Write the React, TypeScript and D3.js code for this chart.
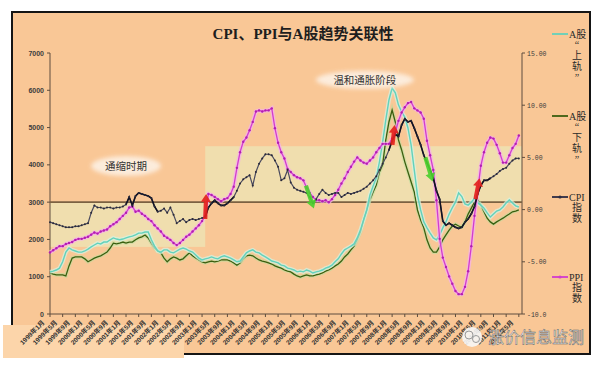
import * as d3 from "d3";
import { useEffect } from "react";

// monthly readings, Jan 1999 .. May 2011 (149 months)
const cpi = [
  -1.2, -1.3, -1.4, -1.5, -1.6, -1.7, -1.7, -1.7, -1.6, -1.6,
  -1.5, -1.4, -1.3, -0.3, 0.4, 0.2, 0.2, 0.1, 0.2, 0.2,
  0.1, 0.2, 0.2, 0.3, 0.5, 1.2, 0.4, 1.3, 1.6, 1.5,
  1.4, 1.3, 1.1, 0.3, -0.2, -0.1, 0.1, -0.3, 0.2, -0.5,
  -1.3, -1.1, -0.9, -1.2, -1.0, -0.9, -1.0, -0.9, -0.8, -0.7,
  0.2, 0.6, 0.9, 0.6, 0.4, 0.4, 0.6, 0.9, 1.2, 1.8,
  2.5, 2.9, 3.1, 3.3, 2.3, 3.6, 4.4, 4.9, 5.3, 5.3,
  5.2, 4.7, 4.1, 2.8, 3.0, 3.8, 2.6, 2.1, 1.9, 1.8,
  1.7, 1.6, 1.2, 0.6, 1.0, 1.5, 1.9, 1.6, 1.4, 1.5,
  1.6, 1.6, 1.2, 1.4, 1.6, 1.5, 1.6, 1.7, 1.8, 2.0,
  2.2, 2.5, 2.8, 3.2, 3.8, 4.4, 5.0, 5.7, 6.6, 7.2,
  7.0, 8.1, 8.7, 8.4, 8.5, 7.8, 7.0, 6.2, 5.2, 4.5,
  3.8, 3.0, 1.8, 1.0, -1.1, -1.5, -1.3, -1.5, -1.7, -1.8,
  -1.7, -1.2, -0.9, -0.4, 0.3, 1.5, 2.3, 2.8, 2.8, 3.0,
  3.2, 3.4, 3.7, 3.9, 4.0, 4.4, 4.7, 4.9, 4.9,
];

const ppi = [
  -4.1, -3.9, -3.7, -3.5, -3.5, -3.3, -3.2, -3.1, -2.9, -2.8,
  -2.8, -2.7, -2.6, -2.4, -2.2, -2.3, -2.1, -2.0, -1.9, -1.6,
  -1.4, -1.2, -0.9, -0.6, -0.3, 0.2, 0.3, -0.2, -0.1, -0.4,
  -0.6, -0.9, -1.1, -1.5, -1.8, -2.1, -2.5, -2.7, -2.9, -3.2,
  -3.4, -3.2, -2.9, -2.6, -2.4, -2.1, -1.8, -1.5, -1.1, -0.6,
  1.5, 1.4, 1.2, 1.0, 0.8, 1.0, 1.1, 1.5, 2.2, 4.0,
  5.5, 6.5, 6.9, 7.6, 8.4, 9.4, 9.5, 9.4, 9.5, 9.5,
  9.7, 7.8, 6.4, 5.5, 4.9, 3.9, 3.6, 3.3, 3.1, 3.0,
  2.8, 2.1, 1.6, 1.2, 0.9, 0.9, 0.8, 0.9, 0.7, 1.0,
  1.4, 1.9, 2.5, 3.0, 3.6, 4.1, 4.6, 5.0, 4.7, 4.5,
  4.4, 4.7, 5.0, 5.5, 5.9, 6.3, 6.3, 6.3, 6.8, 7.4,
  8.5, 9.3, 9.8, 10.2, 10.3, 9.7, 9.5, 9.3, 8.7, 6.6,
  5.2, 3.8, 0.9, -2.8, -4.6, -5.5, -6.4, -7.1, -7.8, -8.1,
  -8.1, -7.4, -5.9, -3.5, -0.6, 1.8, 4.2, 5.5, 6.4, 6.9,
  6.8, 6.2, 5.4, 4.5, 4.5, 5.2, 5.9, 6.3, 7.1,
];

const bandUpper = [
  1130, 1150, 1180, 1230, 1400, 1660, 1770, 1720, 1690, 1660,
  1660, 1690, 1740, 1800, 1850, 1900, 1880, 1930, 1930, 1990,
  2040, 2010, 1990, 2010, 2040, 2070, 2090, 2120, 2170, 2170,
  2200, 2200, 1990, 1820, 1690, 1660, 1720, 1720, 1660, 1640,
  1690, 1740, 1770, 1740, 1690, 1660, 1580, 1500, 1450, 1480,
  1500, 1530, 1500, 1480, 1530, 1560, 1530, 1500, 1450, 1400,
  1420, 1530, 1640, 1690, 1720, 1660, 1640, 1580, 1530, 1480,
  1420, 1400, 1370, 1310, 1290, 1230, 1210, 1180, 1130, 1150,
  1130, 1180, 1150, 1100, 1130, 1150, 1180, 1230, 1260, 1310,
  1400, 1480, 1610, 1720, 1770, 1820, 1880, 2040, 2250, 2520,
  2790, 3190, 3430, 3650, 4080, 4610, 5200, 5740, 6060, 5930,
  5610, 5420, 5280, 4990, 4530, 3860, 3190, 2790, 2470, 2310,
  2170, 2040, 1990, 2120, 2310, 2470, 2680, 2850, 3000, 3250,
  3150, 2950, 2920, 3000, 3100, 2980, 2920, 2840, 2710, 2600,
  2680, 2760, 2790, 2870, 2980, 3060, 2980, 2900, 2870,
];

const bandLower = [
  1100, 1070, 1050, 1050, 1050, 1020, 1290, 1500, 1530, 1530,
  1530, 1480, 1400, 1450, 1500, 1530, 1560, 1610, 1660, 1770,
  1900, 1880, 1900, 1930, 1900, 1930, 1930, 1990, 2040, 2070,
  2120, 2040, 1900, 1770, 1690, 1640, 1500, 1400, 1480, 1530,
  1500, 1450, 1480, 1560, 1640, 1560, 1500, 1450, 1400, 1370,
  1400, 1420, 1400, 1420, 1450, 1450, 1450, 1420, 1370, 1310,
  1370, 1480, 1560, 1580, 1560, 1500, 1450, 1420, 1400, 1370,
  1340, 1290, 1260, 1230, 1180, 1150, 1130, 1070, 1020, 990,
  1020, 1050, 1020, 1020, 1050, 1070, 1100, 1150, 1180, 1230,
  1290, 1340, 1420, 1530, 1610, 1720, 1820, 1990, 2200, 2520,
  2790, 3060, 3270, 3460, 3810, 4000, 4670, 5150, 5470, 5150,
  4670, 4400, 4080, 3810, 3540, 3270, 2790, 2520, 2310, 1990,
  1770, 1660, 1660, 1800, 1990, 2120, 2250, 2360, 2410, 2360,
  2330, 2470, 2680, 2840, 3000, 3060, 2920, 2740, 2570, 2470,
  2410, 2470, 2520, 2570, 2630, 2680, 2740, 2760, 2790,
];

const xTickLabels = [
  "1999年1月", "1999年5月", "1999年9月", "2000年1月", "2000年5月", "2000年9月",
  "2001年1月", "2001年5月", "2001年9月", "2002年1月", "2002年5月", "2002年9月",
  "2003年1月", "2003年5月", "2003年9月", "2004年1月", "2004年5月", "2004年9月",
  "2005年1月", "2005年5月", "2005年9月", "2006年1月", "2006年5月", "2006年9月",
  "2007年1月", "2007年5月", "2007年9月", "2008年1月", "2008年5月", "2008年9月",
  "2009年1月", "2009年5月", "2009年9月", "2010年1月", "2010年5月", "2010年9月",
  "2011年1月", "2011年5月",
];

const leftTicks = [0, 1000, 2000, 3000, 4000, 5000, 6000, 7000];
const rightTicks = [15, 10, 5, 0, -5, -10];
const rightTickLabels = ["15.00", "10.00", "5.00", "0.00", "-5.00", "-10.0"];

// month ranges where the CPI line is inked darker
const cpiDark = [
  [24, 34],
  [49, 58],
  [107, 139],
];

// shaded regimes, in index points on the left axis
const regimes = [
  { from: 0, to: 49, top: 3000, bottom: 1800 },
  { from: 49, to: 149, top: 4500, bottom: 3000 },
];

// turning arrows, month / CPI value (right axis)
const arrows = [
  { m1: 49, v1: -0.9, m2: 49.3, v2: 1.5, color: "#e3221c" },
  { m1: 108.1, v1: 6.2, m2: 108.8, v2: 8.1, color: "#e3221c" },
  { m1: 134.3, v1: 1.0, m2: 135.6, v2: 3.0, color: "#e3221c" },
  { m1: 80.8, v1: 2.3, m2: 83.3, v2: 0.1, color: "#4ccf2e" },
  { m1: 118.5, v1: 5.0, m2: 120.8, v2: 2.7, color: "#4ccf2e" },
];

const notes = [
  { text: "通缩时期", at: 24, level: 3970, rx: 35, ry: 10 },
  { text: "温和通胀阶段", at: 99.4, level: 6280, rx: 49, ry: 9 },
];

const W = 600;
const H = 365;
const left = 50;
const right = 522;
const top = 53;
const bottom = 314;

const cjk = "'Liberation Serif', 'Noto Sans CJK SC', serif";
const sansCjk = "'Noto Sans CJK SC', sans-serif";

function arrowPath(x1: number, y1: number, x2: number, y2: number) {
	const dx = x2 - x1;
	const dy = y2 - y1;
	const len = Math.hypot(dx, dy);
	const ux = dx / len;
	const uy = dy / len;
	const nx = -uy;
	const ny = ux;
	const shaft = 2.1;
	const head = 5;
	const hl = 8;
	const bx = x2 - ux * hl;
	const by = y2 - uy * hl;
	const pts = [
		[x1 + nx * shaft, y1 + ny * shaft],
		[bx + nx * shaft, by + ny * shaft],
		[bx + nx * head, by + ny * head],
		[x2, y2],
		[bx - nx * head, by - ny * head],
		[bx - nx * shaft, by - ny * shaft],
		[x1 - nx * shaft, y1 - ny * shaft],
	];
	return `M${pts.map((p) => p.join(",")).join("L")}Z`;
}

export default function App() {
	useEffect(() => {
		document.body.style.margin = "0";
	}, []);

	const x = d3.scaleLinear().domain([0, 149]).range([left, right]);
	const yL = d3.scaleLinear().domain([0, 7000]).range([bottom, top]);
	const yR = d3.scaleLinear().domain([-10, 15]).range([bottom, top]);

	const lineL = d3
		.line<number>()
		.x((_, i) => x(i))
		.y((d) => yL(d));
	const lineR = d3
		.line<number>()
		.x((_, i) => x(i))
		.y((d) => yR(d));
	const lineRPts = d3
		.line<[number, number]>()
		.x((d) => x(d[0]))
		.y((d) => yR(d[1]));

	const cpiPts: [number, number][] = cpi.map((v, i) => [i, v]);

	const legend = [
		{ y: 34, color: "#62d2bc", marker: false, lines: ["A股", "“", "上", "轨", "”"] },
		{ y: 116, color: "#3b5f10", marker: false, lines: ["A股", "“", "下", "轨", "”"] },
		{ y: 197, color: "#2c2c44", marker: true, lines: ["CPI", "指", "数"] },
		{ y: 277, color: "#d23ccf", marker: true, lines: ["PPI", "指", "数"] },
	];

	return (
		<div style={{ position: "absolute", left: 0, top: 0 }}>
			<svg width={W} height={H} style={{ display: "block", background: "#fff" }}>
				<defs>
					<filter id="soft" x="-30%" y="-60%" width="160%" height="220%">
						<feGaussianBlur stdDeviation="2.2" />
					</filter>
				</defs>

				{/* frame */}
				<rect x={12} y={12} width={578} height={342} fill="#f9c796" stroke="#151515" strokeWidth={2} />
				<rect x={3} y={325} width={181} height={33} fill="#fcd5aa" />

				<text
					x={303}
					y={39}
					textAnchor="middle"
					fontFamily={cjk}
					fontSize={15}
					fontWeight={600}
					fill="#1e1e1e"
				>
					CPI、PPI与A股趋势关联性
				</text>

				{/* shaded regimes */}
				{regimes.map((r, i) => (
					<rect
						key={i}
						x={x(r.from)}
						y={yL(r.top)}
						width={x(r.to) - x(r.from)}
						height={yL(r.bottom) - yL(r.top)}
						fill="#e8f0c0"
						opacity={0.58}
					/>
				))}

				{/* axes */}
				<line x1={left} x2={left} y1={top} y2={bottom} stroke="#5e4d3e" strokeWidth={1} />
				<line x1={right} x2={right} y1={top} y2={bottom} stroke="#5e4d3e" strokeWidth={1} />
				<line x1={left} x2={right} y1={bottom} y2={bottom} stroke="#5e4d3e" strokeWidth={1} />
				{leftTicks.map((t) => (
					<g key={t}>
						<line x1={left - 3} x2={left} y1={yL(t)} y2={yL(t)} stroke="#5e4d3e" />
						<text
							x={left - 6}
							y={yL(t) + 2.5}
							textAnchor="end"
							fontFamily="'Liberation Sans', sans-serif"
							fontSize={7}
							fontWeight="bold"
							fill="#3c3c3c"
						>
							{t}
						</text>
					</g>
				))}
				{rightTicks.map((t, i) => (
					<g key={t}>
						<line x1={right} x2={right + 3} y1={yR(t)} y2={yR(t)} stroke="#5e4d3e" />
						<text
							x={right + 5}
							y={yR(t) + 2.5}
							fontFamily="'Liberation Mono', monospace"
							fontSize={6.5}
							fill="#3c3c3c"
						>
							{rightTickLabels[i]}
						</text>
					</g>
				))}
				{xTickLabels.map((label, i) => {
					const px = x(i * 4);
					return (
						<g key={label}>
							<line x1={px} x2={px} y1={bottom} y2={bottom + 3} stroke="#5e4d3e" />
							<text
								transform={`translate(${px - 5},${bottom + 9}) rotate(-45)`}
								textAnchor="end"
								fontFamily="'Liberation Sans', 'Noto Sans CJK SC', sans-serif"
								fontSize={6.6}
								fontWeight="bold"
								fill="#333"
							>
								{label}
							</text>
						</g>
					);
				})}

				{/* 3000 reference line */}
				<line x1={left} x2={right} y1={yL(3000)} y2={yL(3000)} stroke="#7b6142" strokeWidth={1.6} />

				{/* A-share bands */}
				<path d={lineL(bandLower) ?? ""} fill="none" stroke="#b8de9c" strokeWidth={3.6} opacity={0.55} />
				<path d={lineL(bandLower) ?? ""} fill="none" stroke="#3b5f10" strokeWidth={1.3} />
				<path d={lineL(bandUpper) ?? ""} fill="none" stroke="#d4f4e6" strokeWidth={4} opacity={0.7} />
				<path d={lineL(bandUpper) ?? ""} fill="none" stroke="#62d2bc" strokeWidth={1.4} />

				{/* PPI */}
				<path d={lineR(ppi) ?? ""} fill="none" stroke="#f5b2ea" strokeWidth={4} opacity={0.75} />
				<path d={lineR(ppi) ?? ""} fill="none" stroke="#d23ccf" strokeWidth={1.3} />
				{ppi.map((v, i) => (
					<circle key={i} cx={x(i)} cy={yR(v)} r={1.2} fill="#b21fb0" />
				))}

				{/* CPI */}
				<path d={lineR(cpi) ?? ""} fill="none" stroke="#4a4a5e" strokeWidth={1.2} />
				{cpiDark.map(([a, b]) => (
					<path
						key={a}
						d={lineRPts(cpiPts.slice(a, b + 1)) ?? ""}
						fill="none"
						stroke="#111122"
						strokeWidth={1.6}
					/>
				))}
				{cpi.map((v, i) => (
					<circle key={i} cx={x(i)} cy={yR(v)} r={1} fill="#2a2a3a" />
				))}

				{/* turning arrows */}
				{arrows.map((a, i) => (
					<path
						key={i}
						d={arrowPath(x(a.m1), yR(a.v1), x(a.m2), yR(a.v2))}
						fill={a.color}
						opacity={0.92}
					/>
				))}

				{/* regime notes */}
				{notes.map((n) => (
					<g key={n.text}>
						<ellipse
							cx={x(n.at)}
							cy={yL(n.level)}
							rx={n.rx}
							ry={n.ry}
							fill="#fdf3e8"
							opacity={0.85}
							filter="url(#soft)"
						/>
						<text
							x={x(n.at)}
							y={yL(n.level) + 3.8}
							textAnchor="middle"
							fontFamily={sansCjk}
							fontSize={10.5}
							fill="#333"
						>
							{n.text}
						</text>
					</g>
				))}

				{/* legend */}
				{legend.map((l) => (
					<g key={l.y}>
						<line x1={552} x2={568} y1={l.y} y2={l.y} stroke={l.color} strokeWidth={1.8} />
						{l.marker && <circle cx={560} cy={l.y} r={1.6} fill={l.color} />}
						{l.lines.map((s, j) => (
							<text
								key={j}
								x={j === 0 ? 569 : 577}
								y={l.y + 3.5 + j * 10.8}
								textAnchor={j === 0 ? "start" : "middle"}
								fontFamily={cjk}
								fontSize={10}
								fill="#2a2a2a"
							>
								{s}
							</text>
						))}
					</g>
				))}

				{/* watermark */}
				<circle cx={472} cy={337} r={10} fill="#f6f6f6" opacity={0.9} />
				<circle cx={469} cy={335} r={4} fill="none" stroke="#9a9a9a" strokeWidth={1} />
				<circle cx={476} cy={339} r={3.5} fill="none" stroke="#9a9a9a" strokeWidth={1} />
				<text
					x={488}
					y={343}
					fontFamily={sansCjk}
					fontSize={16}
					fill="#f8f8f8"
					stroke="#6a6a6a"
					strokeWidth={0.5}
				>
					涨价信息监测
				</text>
			</svg>
		</div>
	);
}
